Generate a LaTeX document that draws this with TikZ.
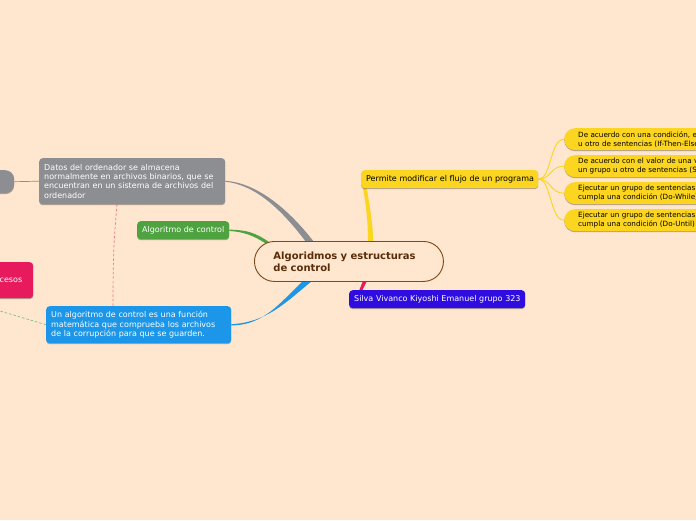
\documentclass[tikz,border=0pt]{standalone}
\usepackage{fontspec}
\setmainfont{DejaVu Sans}
\usetikzlibrary{shadows,calc}
\pgfdeclarelayer{bg}\pgfdeclarelayer{conn}
\pgfsetlayers{bg,conn,main}
\definecolor{pagebg}{HTML}{FEE6CF}
\definecolor{cgray}{HTML}{8D8E92}
\definecolor{cgreen}{HTML}{4EA23F}
\definecolor{cblue}{HTML}{1C96E8}
\definecolor{cpink}{HTML}{E81A5E}
\definecolor{cyel}{HTML}{FBD51F}
\definecolor{cviolet}{HTML}{2F0DE0}
\definecolor{cbrown}{HTML}{7A4A1A}
\definecolor{ctext}{HTML}{5A2D0A}
\definecolor{dashpink}{HTML}{F0788A}
\definecolor{dashgreen}{HTML}{6DC97F}
\tikzset{
  x=1pt,y=-1pt,
  box/.style={anchor=north west,rounded corners=3.5pt,inner ysep=0pt,inner xsep=5pt,align=left,
    font=\fontsize{8}{9.3}\selectfont,text=white,
    drop shadow={shadow xshift=0pt,shadow yshift=-1pt,opacity=.3,fill=black}},
  oneline/.style={box,minimum height=18pt},
  leaf/.style={box,rounded corners=11pt,fill=cyel,text=black,inner xsep=14pt,
    minimum height=22pt,text width=170pt,font=\fontsize{7.2}{9.2}\selectfont},
  twig/.style={draw=cyel,line width=.9pt},
  rel/.style={dashed,dash pattern=on 2.5pt off 2pt,line width=.7pt},
}
\begin{document}
\begin{tikzpicture}
\useasboundingbox (0,0) rectangle (696,520);
\begin{pgfonlayer}{bg}
\fill[pagebg] (0,0) rectangle (696,520);
\end{pgfonlayer}
\clip (0,0) rectangle (696,520);

\node[anchor=north west,draw=cbrown,fill=pagebg,line width=.9pt,rounded corners=20pt,minimum width=189pt,minimum height=40pt,
  inner xsep=19pt,inner ysep=0pt,text width=151pt,align=left,text=ctext,font=\bfseries\fontsize{10}{12}\selectfont]
  (main) at (254,241) {Algoridmos y estructuras\\de control};

\node[oneline,fill=cyel,text=black,text width=167pt] (yel) at (361,170) {\makebox[167pt][l]{Permite modificar el flujo de un programa}};
\node[oneline,fill=cviolet,text width=166pt] (vio) at (349,290) {\makebox[166pt][l]{Silva Vivanco Kiyoshi Emanuel grupo 323}};
\node[oneline,fill=cgreen,text width=82pt] (gre) at (137,221) {\makebox[82pt][l]{Algoritmo de control}};
\node[box,fill=cgray,minimum height=46pt,text width=176pt] (gry) at (39,158) {Datos del ordenador se almacena\\normalmente en archivos binarios, que se\\encuentran en un sistema de archivos del\\ordenador};
\node[box,fill=cblue,minimum height=37pt,text width=175pt] (blu) at (46,306) {Un algoritmo de control es una función\\matemática que comprueba los archivos\\de la corrupción para que se guarden.};
\node[box,fill=cpink,minimum height=36pt,text width=82pt,align=right,inner xsep=11pt] (pnk) at (-71,262) {cesos};
\node[box,fill=cgray,rounded corners=9pt,minimum height=23pt,minimum width=60pt] (gsm) at (-46,170) {};

\node[leaf] (r1) at (564,128) {De acuerdo con una condición, ej\\u otro de sentencias (If-Then-Else};
\node[leaf] (r2) at (564,155) {De acuerdo con el valor de una va\\un grupo u otro de sentencias (Sw};
\node[leaf] (r3) at (564,182) {Ejecutar un grupo de sentencias s\\cumpla una condición (Do-While)};
\node[leaf] (r4) at (564,209) {Ejecutar un grupo de sentencias h\\cumpla una condición (Do-Until)};

\coordinate (off) at (0,311);
\begin{pgfonlayer}{conn}
\fill[cgray] ($(gry.east)+(0,-.4)$) .. controls +(30,2) and (287,207) .. ($(main.north west)+(60,1)$)
  -- ($(main.north west)+(52,1)$) .. controls (282,210) and +(30,3) .. ($(gry.east)+(0,.5)$) -- cycle;
\fill[cgreen] ($(gre.east)+(0,-.5)$) .. controls +(17,0) and (256,233) .. ($(main.north west)+(15,1)$)
  -- ($(main.north west)+(11,2)$) .. controls (254,236) and +(15,1) .. ($(gre.east)+(0,.7)$) -- cycle;
\fill[cblue] ($(blu.east)+(0,-.5)$) .. controls +(35,-2) and (284,304) .. ($(main.south west)+(58,-1)$)
  -- ($(main.south west)+(49,-1)$) .. controls (280,303) and +(32,0) .. ($(blu.east)+(0,.7)$) -- cycle;
\fill[cyel] ($(yel.south west)+(2,0)$) .. controls +(3,16) and (368,222) .. ($(main.north west)+(114,1)$)
  -- ($(main.north west)+(119,1)$) .. controls (374,222) and +(-4,-18) .. ($(yel.south west)+(6,0)$) -- cycle;
\fill[cpink] ($(vio.north west)+(10,1)$) -- ($(main.south west)+(109,-1)$) -- ($(main.south west)+(113,-1)$) -- ($(vio.north west)+(13,1)$) -- cycle;
\draw[cgray,line width=.7pt] (gsm.east) -- (gry.west);
\draw[twig] (yel.east) .. controls +(13,0) and +(-14,0) .. (r1.west);
\draw[twig] (yel.east) .. controls +(13,0) and +(-14,0) .. (r2.west);
\draw[twig] (yel.east) .. controls +(13,0) and +(-14,0) .. (r3.west);
\draw[twig] (yel.east) .. controls +(13,0) and +(-14,0) .. (r4.west);
\draw[rel,draw=dashpink] ($(gry.south west)+(78,0)$) .. controls +(-3,35) and +(0,-50) .. ($(blu.north west)+(67,0)$);
\draw[rel,draw=dashgreen] (blu.west) -- (off);
\end{pgfonlayer}
\end{tikzpicture}
\end{document}
